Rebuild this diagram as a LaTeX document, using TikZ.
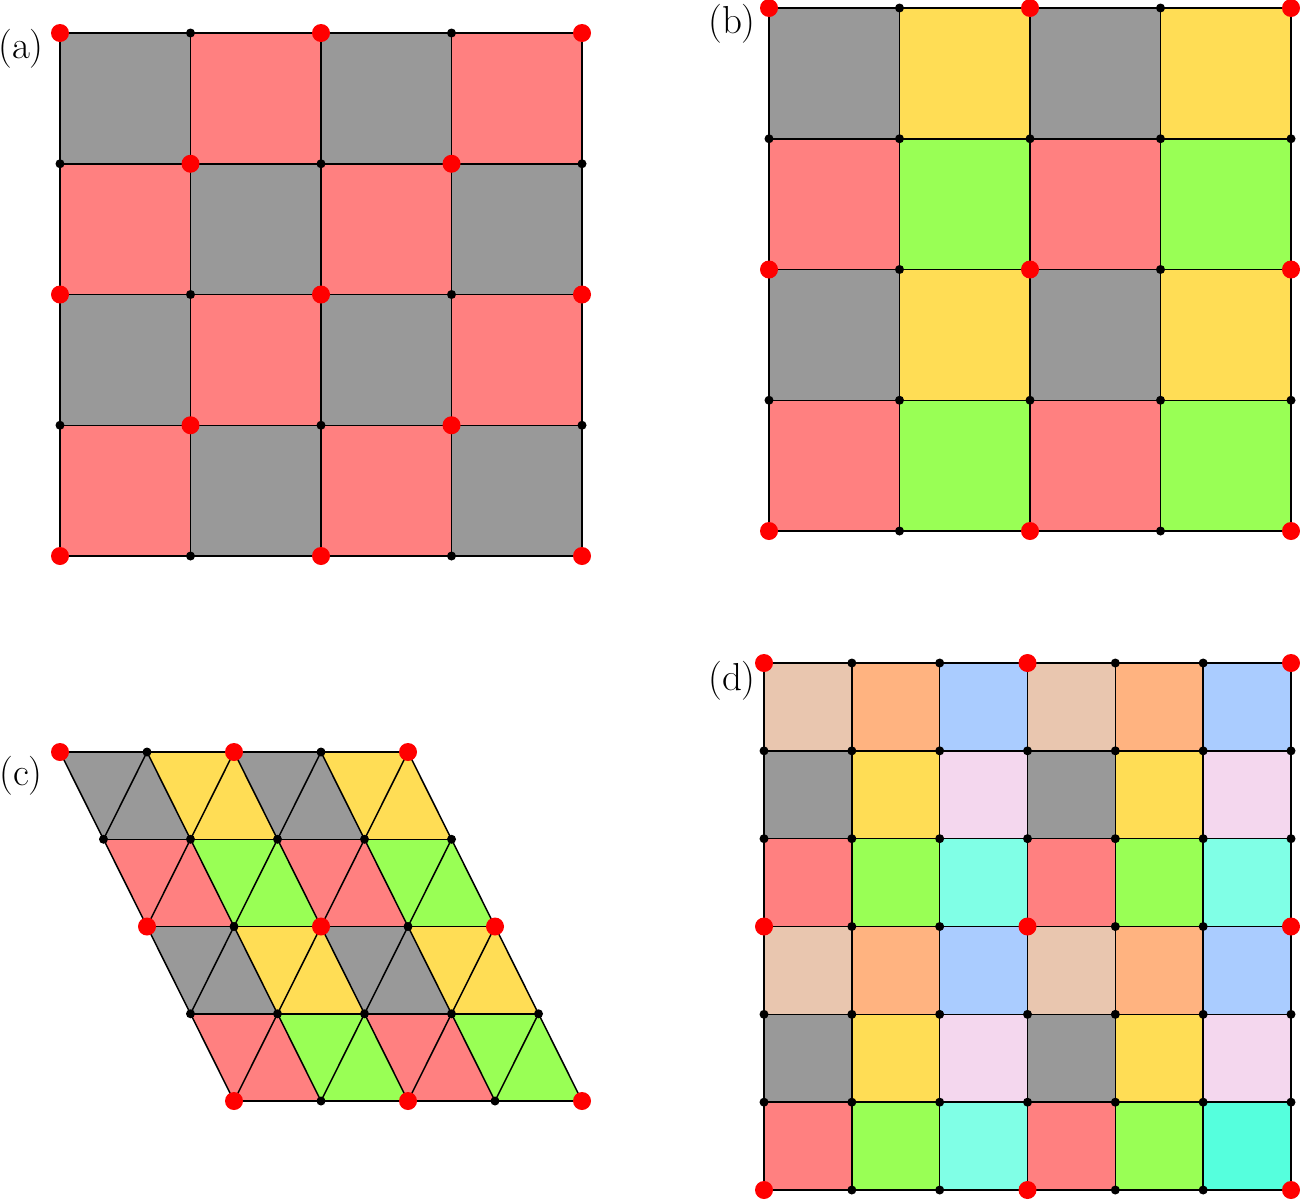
\documentclass[tikz,border=0pt]{standalone}
\definecolor{cgray}{HTML}{999999}
\definecolor{cred}{HTML}{FF8080}
\definecolor{cyellow}{HTML}{FFDD55}
\definecolor{cgreen}{HTML}{99FF55}
\definecolor{ctan}{HTML}{E9C6AF}
\definecolor{corange}{HTML}{FFB380}
\definecolor{cblue}{HTML}{AACCFF}
\definecolor{cpink}{HTML}{F4D7EE}
\definecolor{ccyan}{HTML}{80FFE6}
\definecolor{ccyanb}{HTML}{55FFDD}
\begin{document}
\begin{tikzpicture}[x=1pt,y=-1pt]
\tikzset{
  edge/.style={draw=black,line width=1.5pt,line join=round},
  rdot/.style={fill=red},
  bdot/.style={fill=black},
  lab/.style={font=\fontsize{39}{44}\selectfont,anchor=base,inner sep=0pt}
}
\useasboundingbox (0,0) rectangle (1300,1200);

% ---------- (a)
\foreach \i in {0,...,3} \foreach \j in {0,...,3} {
  \pgfmathtruncatemacro\k{mod(\i+\j,2)}
  \ifcase\k \def\c{cgray}\or\def\c{cred}\fi
  \fill[\c] (60+\i*130.5,33+\j*130.75) rectangle ++(130.5,130.75);
}
\foreach \i in {0,...,4} \draw[edge] (60+\i*130.5,33) -- (60+\i*130.5,556);
\foreach \j in {0,...,4} \draw[edge] (60,33+\j*130.75) -- (582,33+\j*130.75);
\foreach \i in {0,...,4} \foreach \j in {0,...,4} {
  \pgfmathtruncatemacro\k{mod(\i+\j,2)}
  \ifnum\k=0 \fill[rdot] (60+\i*130.5,33+\j*130.75) circle (9);
  \else \fill[bdot] (60+\i*130.5,33+\j*130.75) circle (4.5); \fi
}
\node[lab] (la) at (21,58) {(a)};

% ---------- (b)
\foreach \i in {0,...,3} \foreach \j in {0,...,3} {
  \pgfmathtruncatemacro\k{mod(\i,2)+2*mod(\j,2)}
  \ifcase\k \def\c{cgray}\or\def\c{cyellow}\or\def\c{cred}\or\def\c{cgreen}\fi
  \fill[\c] (769+\i*130.5,8+\j*130.75) rectangle ++(130.5,130.75);
}
\foreach \i in {0,...,4} \draw[edge] (769+\i*130.5,8) -- (769+\i*130.5,531);
\foreach \j in {0,...,4} \draw[edge] (769,8+\j*130.75) -- (1291,8+\j*130.75);
\foreach \i in {0,...,4} \foreach \j in {0,...,4} {
  \pgfmathtruncatemacro\k{mod(\i,2)+mod(\j,2)}
  \ifnum\k=0 \fill[rdot] (769+\i*130.5,8+\j*130.75) circle (9);
  \else \fill[bdot] (769+\i*130.5,8+\j*130.75) circle (4.5); \fi
}
\node[lab] (lb) at (732,33) {(b)};

% ---------- (c)
\foreach \i in {0,...,3} \foreach \j in {0,...,3} {
  \pgfmathtruncatemacro\k{mod(\i,2)+2*mod(\j,2)}
  \ifcase\k \def\c{cgray}\or\def\c{cyellow}\or\def\c{cred}\or\def\c{cgreen}\fi
  \fill[\c] (60+\i*87+\j*43.5,752+\j*87.25) -- ++(87,0) -- ++(43.5,87.25) -- ++(-87,0) -- cycle;
}
\foreach \j in {0,...,4} \draw[edge] (60+\j*43.5,752+\j*87.25) -- ++(348,0);
\foreach \i in {0,...,4} \draw[edge] (60+\i*87,752) -- ++(174,349);
% anti-diagonals
\foreach \s in {1,...,7} {
  \pgfmathtruncatemacro\ia{min(\s,4)}
  \pgfmathtruncatemacro\ja{\s-\ia}
  \pgfmathtruncatemacro\jb{min(\s,4)}
  \pgfmathtruncatemacro\ib{\s-\jb}
  \draw[edge] (60+\ia*87+\ja*43.5,752+\ja*87.25) -- (60+\ib*87+\jb*43.5,752+\jb*87.25);
}
\foreach \i in {0,...,4} \foreach \j in {0,...,4} {
  \pgfmathtruncatemacro\k{mod(\i,2)+mod(\j,2)}
  \ifnum\k=0 \fill[rdot] (60+\i*87+\j*43.5,752+\j*87.25) circle (9);
  \else \fill[bdot] (60+\i*87+\j*43.5,752+\j*87.25) circle (4.5); \fi
}
\node[lab] (lc) at (21,785) {(c)};

% ---------- (d)
\foreach \i in {0,...,5} \foreach \j in {0,...,5} {
  \pgfmathtruncatemacro\k{mod(\i,3)+3*mod(\j,3)}
  \ifcase\k \def\c{ctan}\or\def\c{corange}\or\def\c{cblue}\or\def\c{cgray}\or\def\c{cyellow}\or\def\c{cpink}\or\def\c{cred}\or\def\c{cgreen}\or\def\c{ccyan}\fi
  \fill[\c] (764+\i*87.833,663+\j*87.833) rectangle ++(87.833,87.833);
}
\fill[ccyanb] (764+5*87.833,663+5*87.833) rectangle ++(87.833,87.833);
\foreach \i in {0,...,6} \draw[edge] (764+\i*87.833,663) -- (764+\i*87.833,1190);
\foreach \j in {0,...,6} \draw[edge] (764,663+\j*87.833) -- (1291,663+\j*87.833);
\foreach \i in {0,...,6} \foreach \j in {0,...,6} {
  \pgfmathtruncatemacro\k{mod(\i,3)+mod(\j,3)}
  \ifnum\k=0 \fill[rdot] (764+\i*87.833,663+\j*87.833) circle (9);
  \else \fill[bdot] (764+\i*87.833,663+\j*87.833) circle (4.5); \fi
}
\node[lab] (ld) at (732,690) {(d)};
\end{tikzpicture}
\end{document}
